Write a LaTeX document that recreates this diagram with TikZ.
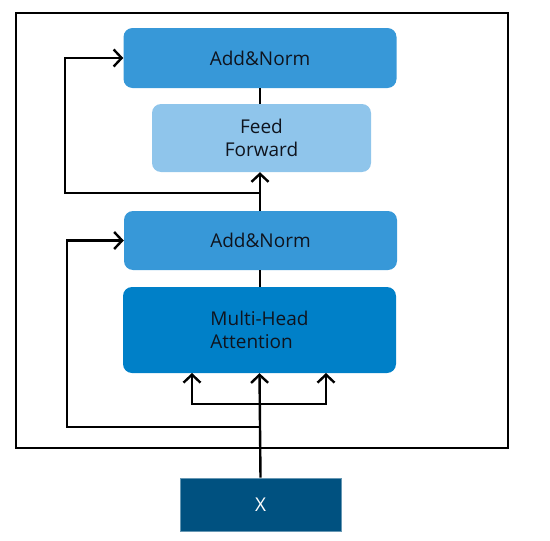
\documentclass[tikz,border=0pt]{standalone}
\usepackage{fontspec}
\setmainfont{Open Sans}
\usetikzlibrary{arrows.meta}
\definecolor{addnorm}{RGB}{55,152,216}
\definecolor{ffc}{RGB}{143,197,235}
\definecolor{mhac}{RGB}{0,128,200}
\definecolor{xc}{RGB}{0,81,128}
\definecolor{txt}{RGB}{15,20,30}
\begin{document}
\begin{tikzpicture}[x=1pt,y=-1pt,
  blk/.style={rounded corners=9pt,inner sep=0pt,font=\fontsize{19}{23}\selectfont,text=txt},
  conn/.style={line width=2.4pt,line join=miter},
  arr/.style={conn,-{Straight Barb[length=8pt,width=17pt,line width=2.4pt]}}]
\useasboundingbox (0,0) rectangle (550,541);
\draw[line width=2pt] (16,13) rectangle (508,448);
\node[blk,fill=addnorm,minimum width=273pt,minimum height=60pt] (an2) at (260,58) {Add\&Norm};
\node[blk,fill=ffc,minimum width=219pt,minimum height=68pt,align=center] (ff) at (261.5,138) {Feed\\Forward};
\node[blk,fill=addnorm,minimum width=273pt,minimum height=59pt] (an1) at (260.5,240.5) {Add\&Norm};
\node[blk,fill=mhac,minimum width=273pt,minimum height=86pt,align=left] (mha) at (259.5,330) {Multi-Head\\Attention};
\node[fill=xc,draw=xc!60!white,line width=0.6pt,minimum width=161pt,minimum height=53pt,inner sep=0pt,text=white,font=\fontsize{19}{23}\selectfont] (x) at (260.5,504.5) {X};
\coordinate (b1) at (260,404);
\coordinate (b2) at (260,427);
\coordinate (b3) at (260,193);
\draw[arr] (x.north) -- (mha.south);
\draw[arr] (b1) -| (192,373);
\draw[arr] (b1) -| (326,373);
\draw[arr] (b2) -- (67,427) |- (an1.west);
\draw[conn] (mha.north -| 260,0) -- (an1.south -| 260,0);
\draw[arr] (an1.north -| 260,0) -- (ff.south -| 260,0);
\draw[arr] (b3) -- (65,193) |- (an2.west);
\draw[conn] (ff.north -| 260,0) -- (an2.south -| 260,0);
\end{tikzpicture}
\end{document}
